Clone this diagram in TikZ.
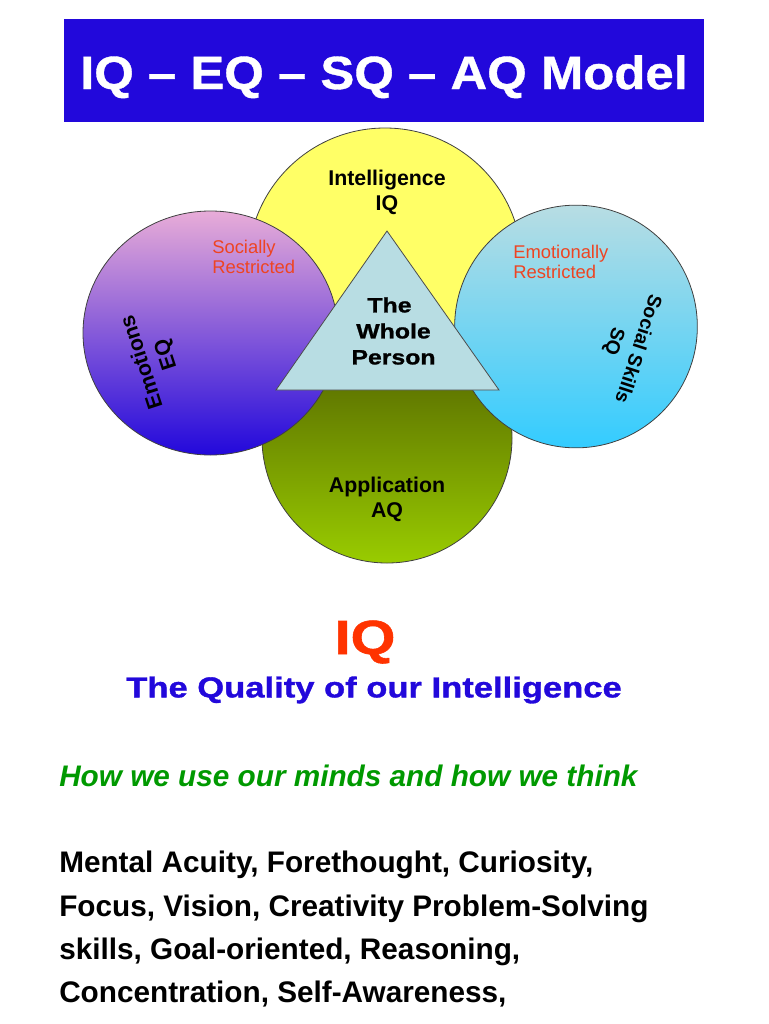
\documentclass[tikz,border=0pt]{standalone}
\usepackage{fontspec}
\setmainfont{Liberation Sans}
\newfontface\titlefont{Liberation Sans Bold}[FakeStretch=1.09,FakeBold=0.8]
\newfontface\heavyfont{Liberation Sans Bold}[FakeStretch=1.2,FakeBold=1.2]
\usetikzlibrary{positioning,shapes.geometric}
\definecolor{titleblue}{HTML}{2208DB}
\definecolor{headred}{HTML}{FF3300}
\definecolor{warnred}{HTML}{EE4422}
\definecolor{headgreen}{HTML}{009900}
\definecolor{triblue}{HTML}{B8DDE3}
\definecolor{iqyellow}{HTML}{FFFF66}
\definecolor{aqtop}{RGB}{73,85,0}
\definecolor{aqbottom}{RGB}{153,204,0}
\definecolor{eqtop}{RGB}{232,172,216}
\definecolor{sqbottom}{RGB}{51,204,255}
\tikzset{
	ball/.style={ellipse,draw=black!75,line width=0.6pt,inner sep=0pt},
	label text/.style={font=\bfseries\fontsize{16}{18.8}\selectfont,align=center},
	warn text/.style={font=\fontsize{13.8}{15}\selectfont,align=left,text=warnred,anchor=north west,inner sep=0pt},
	body text/.style={font=\bfseries\fontsize{22.3}{32.5}\selectfont,align=left,anchor=north west,inner sep=0pt}
}
\begin{document}
\begin{tikzpicture}[x=0.75pt,y=-0.75pt]
	\useasboundingbox (0,0) rectangle (768,1024);

	\node[fill=titleblue,minimum width=480pt,minimum height=77.25pt,inner sep=0pt,text=white,text height=27.8pt,text depth=0pt,font=\titlefont\fontsize{35}{40}\selectfont] (title) at (384,70.5) {IQ – EQ – SQ – AQ Model};

	\node[ball,minimum width=205.5pt,minimum height=205.5pt,fill=iqyellow] (iq) at (385,265) {};
	\node[ball,minimum width=187.5pt,minimum height=187.5pt,top color=aqtop,bottom color=aqbottom] (aq) at (387,438) {};
	\node[ball,minimum width=191.25pt,minimum height=183pt,top color=eqtop,bottom color=titleblue] (eq) at (210.5,333) {};
	\node[ball,minimum width=182pt,minimum height=182pt,top color=triblue,bottom color=sqbottom] (sq) at (576,326.5) {};

	\coordinate (apex) at (387,231);
	\coordinate (baseleft) at (276,390);
	\coordinate (baseright) at (499,390);
	\draw[fill=triblue,draw=black!70,line width=0.6pt] (apex) -- (baseleft) -- (baseright) -- cycle;

	\node[label text] (iqlabel) at (387,192) {Intelligence\\IQ};
	\node[label text] (aqlabel) at (387,499.5) {Application\\AQ};
	\node[label text,rotate=108] (eqlabel) at (154.5,358) {Emotions\\EQ};
	\node[label text,font=\bfseries\fontsize{14.5}{18.8}\selectfont,rotate=-108] (sqlabel) at (625.5,345) {Social Skills\\SQ};
	\node[warn text] (eqwarn) at (212,240) {Socially\\Restricted};
	\node[warn text] (sqwarn) at (513,245) {Emotionally\\Restricted};
	\node[font=\heavyfont\fontsize{15.5}{19.5}\selectfont,align=center] (whole) at (393.5,331) {The\hspace*{6pt}\\Whole\hspace*{6pt}\\Person};

	\node[font=\heavyfont\fontsize{36}{40}\selectfont,text=headred] (head) at (365,642) {IQ};
	\node[font=\heavyfont\fontsize{21.6}{26}\selectfont,text=titleblue] (sub) at (374,690) {The Quality of our Intelligence};
	\node[font=\bfseries\itshape\fontsize{22.3}{26}\selectfont,text=headgreen,anchor=west,inner sep=0pt] (how) at (59,776) {How we use our minds and how we think};
	\node[body text] (body) at (59,851) {Mental Acuity, Forethought, Curiosity,\\Focus, Vision, Creativity Problem-Solving\\skills, Goal-oriented, Reasoning,\\Concentration, Self-Awareness,};
\end{tikzpicture}
\end{document}
